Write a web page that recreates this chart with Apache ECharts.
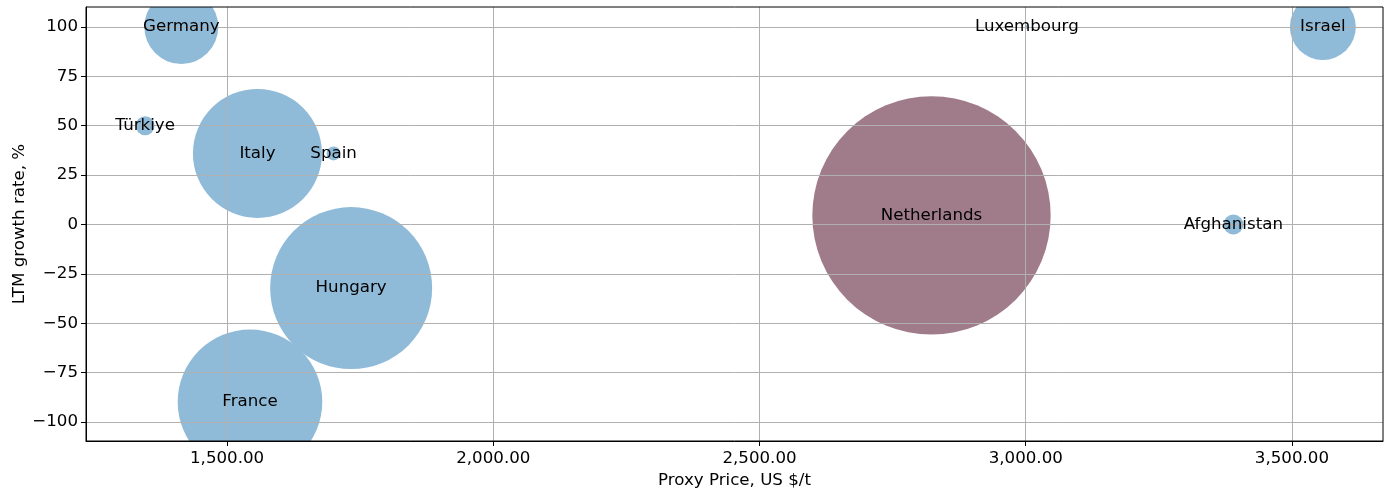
<!DOCTYPE html>
<html>
<head>
<meta charset="utf-8">
<script src="https://cdn.jsdelivr.net/npm/echarts@6/dist/echarts.min.js"></script>
<style>
html,body{margin:0;padding:0;background:#fff;}
#chart{width:1389px;height:491px;}
</style>
</head>
<body>
<div id="chart"></div>
<script>
// ---- data ----
const countries = ["Germany","Türkiye","Italy","Spain","Hungary","France","Netherlands","Luxembourg","Israel","Afghanistan"];
const proxyPrice = [1414, 1346, 1557, 1700, 1733, 1543, 2823, 3002, 3558, 3390];
const growthRate = [100, 50, 36, 36, -32.2, -89.8, 4.6, 100, 100, 0];
const volume = [1369, 90, 4160, 49, 6561, 5227, 14200, 4, 1089, 100];
const highlighted = ["Netherlands"];
const xTicks = [1500, 2000, 2500, 3000, 3500];
const yTicks = [-100, -75, -50, -25, 0, 25, 50, 75, 100];

// ---- chart ----
const FONT = 'DejaVu Sans';
const FS = 16.67;
const blue = '#8fbbd9';
const maroon = '#a07c8a';
const X_MIN = 1235, X_MAX = 3671, Y_MIN = -109.6, Y_MAX = 110.1;
const GRID = {left: 86, right: 6, top: 7, bottom: 50};

const bubbleData = countries.map((c, i) => ({
  name: c,
  value: [proxyPrice[i], growthRate[i], volume[i]],
  itemStyle: {color: highlighted.includes(c) ? maroon : blue, opacity: 1}
}));
const labelData = countries.map((c, i) => ({name: c, value: [proxyPrice[i], growthRate[i]]}));
const gridLines = xTicks.map(v => ({xAxis: v})).concat(yTicks.map(v => ({yAxis: v})));

const chart = echarts.init(document.getElementById('chart'), null, {renderer: 'canvas'});
const W = 1389, H = 491;
const fmtX = v => Number(v).toLocaleString('en-US', {minimumFractionDigits: 2, maximumFractionDigits: 2});
const fmtY = v => String(v).replace('-', '\u2212');
chart.setOption({
  animation: false,
  backgroundColor: '#fff',
  textStyle: {fontFamily: FONT},
  grid: Object.assign({show: true, borderColor: '#000', borderWidth: 1, backgroundColor: 'transparent', z: 6,
    containLabel: false, outerBoundsMode: 'none'}, GRID),
  graphic: [
    {type: 'rect', z: 4, silent: true, shape: {x: 0, y: 0, width: W, height: GRID.top}, style: {fill: '#fff'}},
    {type: 'rect', z: 4, silent: true, shape: {x: 0, y: H - GRID.bottom, width: W, height: GRID.bottom}, style: {fill: '#fff'}},
    {type: 'rect', z: 4, silent: true, shape: {x: 0, y: 0, width: GRID.left, height: H}, style: {fill: '#fff'}},
    {type: 'rect', z: 4, silent: true, shape: {x: W - GRID.right, y: 0, width: GRID.right, height: H}, style: {fill: '#fff'}}
  ],
  xAxis: {
    type: 'value', min: X_MIN, max: X_MAX, z: 5,
    name: 'Proxy Price, US $/t', nameLocation: 'middle', nameGap: 29,
    nameTextStyle: {fontFamily: FONT, fontSize: FS, color: '#000'},
    axisLine: {show: true, onZero: false, lineStyle: {color: '#000', width: 1}},
    axisTick: {show: true, length: 5, customValues: xTicks, lineStyle: {color: '#000', width: 1}},
    axisLabel: {
      fontFamily: FONT, fontSize: FS, color: '#000', margin: 9,
      customValues: xTicks, formatter: fmtX
    },
    splitLine: {show: false}
  },
  yAxis: {
    type: 'value', min: Y_MIN, max: Y_MAX, z: 5,
    name: 'LTM growth rate, %', nameLocation: 'middle', nameGap: 58, nameMoveOverlap: false,
    nameTextStyle: {fontFamily: FONT, fontSize: FS, color: '#000'},
    axisLine: {show: true, onZero: false, lineStyle: {color: '#000', width: 1}},
    axisTick: {show: true, length: 5, customValues: yTicks, lineStyle: {color: '#000', width: 1}},
    axisLabel: {
      fontFamily: FONT, fontSize: FS, color: '#000', margin: 8,
      customValues: yTicks, formatter: fmtY
    },
    splitLine: {show: false}
  },
  series: [
    {
      type: 'scatter', z: 2, clip: false,
      symbol: 'circle',
      symbolSize: d => 2 * Math.sqrt(d[2]),
      data: bubbleData,
      label: {show: false}
    },
    {
      type: 'scatter', z: 3, clip: false,
      data: [],
      markLine: {
        silent: true, symbol: 'none', animation: false,
        label: {show: false},
        lineStyle: {color: '#b0b0b0', width: 1, type: 'solid', opacity: 1},
        emphasis: {disabled: true},
        data: gridLines
      }
    },
    {
      type: 'scatter', z: 10, clip: false,
      symbol: 'circle', symbolSize: 1,
      itemStyle: {color: 'rgba(0,0,0,0)', opacity: 1},
      data: labelData,
      label: {
        show: true, position: 'inside', formatter: p => p.name,
        fontFamily: FONT, fontSize: FS, color: '#000'
      }
    }
  ]
});
</script>
</body>
</html>
